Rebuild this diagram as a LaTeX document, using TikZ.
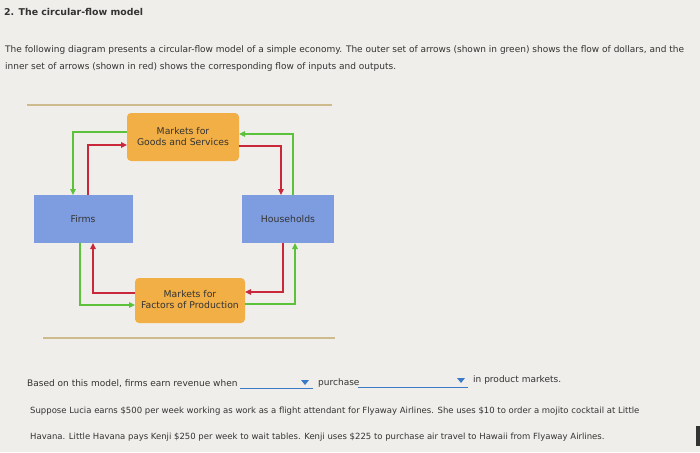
\documentclass[tikz,border=0pt]{standalone}
\usepackage{fontspec}
\setmainfont{DejaVu Sans}
\usetikzlibrary{arrows.meta}
\definecolor{bg}{HTML}{EFEEEA}
\definecolor{tan}{HTML}{CDBB8E}
\definecolor{org}{HTML}{F2AF45}
\definecolor{blu}{HTML}{7E9CE0}
\definecolor{grn}{HTML}{5CC23C}
\definecolor{rd}{HTML}{C8283A}
\definecolor{txt}{HTML}{333333}
\definecolor{sel}{HTML}{3A7BC8}
\begin{document}
\begin{tikzpicture}[x=1pt,y=-1pt,
  mkt/.style={fill=org,rounded corners=4pt,align=center,font=\fontsize{9.3}{11}\selectfont,text=txt},
  agent/.style={fill=blu,font=\fontsize{9.3}{11}\selectfont,text=txt},
  gflow/.style={draw=grn,line width=1.3pt,-{Triangle[length=6pt,width=5.5pt]}},
  rflow/.style={draw=rd,line width=1.3pt,-{Triangle[length=6pt,width=5.5pt]}},
  tx/.style={anchor=west,inner sep=0,text=txt,font=\fontsize{9}{10}\selectfont},
  blank/.style={draw=sel,line width=0.5pt}]
\fill[bg] (0,0) rectangle (700,452);
\useasboundingbox (0,0) rectangle (700,452);
\node[tx,font=\bfseries\fontsize{9.4}{10}\selectfont] (title) at (4,12) {2. The circular-flow model};
\node[tx] (p1) at (5,50) {The following diagram presents a circular-flow model of a simple economy. The outer set of arrows (shown in green) shows the flow of dollars, and the};
\node[tx] (p2) at (5,67) {inner set of arrows (shown in red) shows the corresponding flow of inputs and outputs.};
\draw[tan,line width=2pt] (27,105) -- (332,105);
\draw[tan,line width=2pt] (43,338) -- (335,338);
\path[mkt] (127,113) rectangle (239,161);
\node[mkt,fill=none] (goods) at (183,137) {Markets for\\Goods and Services};
\path[mkt] (135,278) rectangle (245,323);
\node[mkt,fill=none] (factors) at (190,300) {Markets for\\Factors of Production};
\fill[blu] (34,195) rectangle (133,243);
\node[agent,fill=none] (firms) at (83,219) {Firms};
\fill[blu] (242,195) rectangle (334,243);
\node[agent,fill=none] (house) at (288,219) {Households};
\coordinate (gl) at (127,132); \coordinate (gr) at (239,134);
\coordinate (fl) at (135,293); \coordinate (fr) at (245,304);
\draw[gflow] (gl) -- (73,132) -- (73,195);
\draw[rflow] (88,195) -- (88,145) -- (127,145);
\draw[gflow] (293,195) -- (293,134) -- (gr);
\draw[rflow] (239,146) -- (281,146) -- (281,195);
\draw[gflow] (80,243) -- (80,305) -- (135,305);
\draw[rflow] (fl) -- (93,293) -- (93,243);
\draw[rflow] (283,243) -- (283,292) -- (245,292);
\draw[gflow] (fr) -- (295,304) -- (295,243);
\node[tx] (q) at (27,384) {Based on this model, firms earn revenue when};
\draw[blank] (240,388) -- (313,388);
\fill[sel] (301,380) -- (309,380) -- (305,385) -- cycle;
\node[tx] (pur) at (318,383) {purchase};
\draw[blank] (358,387) -- (468,387);
\fill[sel] (457,378) -- (465,378) -- (461,383) -- cycle;
\node[tx] (ipm) at (473,380) {in product markets.};
\node[tx,font=\fontsize{8.5}{10}\selectfont] (s1) at (30,411) {Suppose Lucia earns \$500 per week working as work as a flight attendant for Flyaway Airlines. She uses \$10 to order a mojito cocktail at Little};
\node[tx,font=\fontsize{8.5}{10}\selectfont] (s2) at (30,437) {Havana. Little Havana pays Kenji \$250 per week to wait tables. Kenji uses \$225 to purchase air travel to Hawaii from Flyaway Airlines.};
\fill[txt] (696,426) rectangle (700,446);
\end{tikzpicture}
\end{document}
